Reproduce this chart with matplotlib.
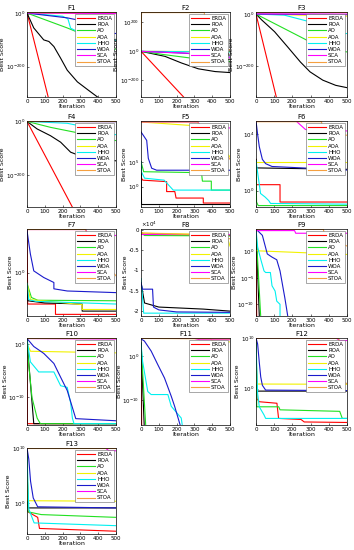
"""
Convergence curves of eight optimisers on the benchmark functions F1-F13.
Scores are kept as log10(best score) for the log panels and as value / 1e4 for F8.
"""

import matplotlib.pyplot as plt

ALGOS = ["ERDA", "ROA", "AO", "AOA", "HHO", "WOA", "SCA", "STOA"]
COLORS = {
    "ERDA": "#ff0000",
    "ROA": "#000000",
    "AO": "#22e022",
    "AOA": "#f2f200",
    "HHO": "#00f0f0",
    "WOA": "#1a1acc",
    "SCA": "#ff00ff",
    "STOA": "#f5a040",
}

# each entry: (iterations, log10 best score)
F1 = {
    "ERDA": ([0, 125], [3, -330]),
    "ROA": ([0, 38, 94, 123, 151, 189, 226, 283, 340, 396, 420],
            [2, -54, -99, -105, -124, -168, -213, -257, -286, -314, -330]),
    "AO": ([0, 226, 321, 396, 500], [2, -54, -80, -124, -134]),
    "AOA": ([0, 500], [3, 3]),
    "HHO": ([0, 200, 230, 245, 290, 330, 500], [2, -10, -20, -55, -70, -95, -100]),
    "WOA": ([0, 226, 321, 415, 453, 500], [2, -16, -29, -54, -73, -75]),
    "SCA": ([0, 500], [2, 0]),
    "STOA": ([0, 500], [5.5, 5.5]),
}
F2 = {
    "ERDA": ([0, 250], [0, -330]),
    "ROA": ([0, 135, 228, 322, 416, 500], [0, -35, -81, -121, -140, -147]),
    "AO": ([0, 130, 320, 500], [0, -23, -53, -70]),
    "AOA": ([0, 500], [0, -2]),
    "HHO": ([0, 500], [0, -5]),
    "WOA": ([0, 230, 420, 500], [0, -12, -28, -40]),
    "SCA": ([0, 400, 500], [0, -20, -45]),
    "STOA": ([0, 3, 356, 360, 500], [0, 268, 268, 10, 10]),
}
F3 = {
    "ERDA": ([0, 115], [0, -330]),
    "ROA": ([0, 32, 102, 173, 244, 297, 367, 438, 500],
            [0, -23, -68, -126, -185, -223, -255, -275, -284]),
    "AO": ([0, 244, 332, 420, 500], [0, -88, -120, -139, -146]),
    "AOA": ([0, 500], [0, -8]),
    "HHO": ([0, 155, 297, 385, 456, 500], [0, -4, -30, -62, -75, -75]),
    "WOA": ([0, 500], [0, -2]),
    "SCA": ([0, 500], [1, 0]),
    "STOA": ([0, 500], [7.5, 7.5]),
}
F4 = {
    "ERDA": ([0, 265], [0, -330]),
    "ROA": ([0, 57, 132, 189, 245, 321, 396, 472, 500],
            [0, -28, -53, -77, -114, -133, -142, -144, -146]),
    "AO": ([0, 132, 321, 415, 500], [0, -22, -47, -66, -71]),
    "AOA": ([0, 500], [0.5, 0.5]),
    "HHO": ([0, 226, 340, 415, 500], [0, -7, -22, -47, -49]),
    "WOA": ([0, 500], [0, -1]),
    "SCA": ([0, 500], [0, 0]),
    "STOA": ([0, 500], [1.2, 1.2]),
}
F5 = {
    "ERDA": ([0, 2, 10, 144, 144, 190, 197, 350, 350, 500],
             [5, 1.7, 1.3, 1.0, -1.0, -1.0, -2.3, -2.3, -3.3, -3.3]),
    "ROA": ([0, 3, 500], [5, -3.6, -3.6]),
    "AO": ([0, 15, 340, 345, 395, 395, 500], [5, 3.0, 2.8, 1.1, 1.1, -0.7, -0.7]),
    "AOA": ([0, 400, 450, 500], [13, 12, 8, 6]),
    "HHO": ([0, 2, 20, 130, 181, 500], [5, 3.0, 1.7, 1.3, -0.7, -0.7]),
    "WOA": ([0, 32, 41, 60, 88, 500], [11, 9.3, 5.7, 3.7, 3.3, 3.3]),
    "SCA": ([0, 320, 340, 500], [13, 13, 12, 11.8]),
    "STOA": ([0, 320, 330, 400, 470, 500], [13, 13, 10, 8, 7, 5.5]),
}
F6 = {
    "ERDA": ([0, 2, 132, 132, 500], [2.2, 0.42, 0.42, -0.8, -0.8]),
    "ROA": ([0, 3, 500], [2.2, 1.6, 1.5]),
    "AO": ([0, 3, 12, 500], [2.1, -0.8, -1.05, -1.05]),
    "AOA": ([0, 500], [2.0, 2.0]),
    "HHO": ([0, 25, 50, 70, 80, 500], [2.1, -0.2, -0.45, -0.7, -0.9, -0.95]),
    "WOA": ([0, 9, 18, 35, 53, 88, 500], [4.9, 3.95, 3.1, 2.2, 1.9, 1.7, 1.45]),
    "SCA": ([0, 220, 272, 500], [4.9, 4.9, 4.3, 4.2]),
    "STOA": ([0, 360, 370, 500], [4.85, 4.85, 4.0, 3.9]),
}
F7 = {
    "ERDA": ([0, 4, 160, 160, 500], [4.0, -2.9, -2.9, -3.85, -3.85]),
    "ROA": ([0, 5, 100, 310, 310, 500], [-1.0, -2.6, -2.8, -2.9, -3.55, -3.55]),
    "AO": ([0, 25, 60, 500], [-1.0, -2.3, -2.55, -2.6]),
    "AOA": ([0, 20, 310, 310, 500], [-1.0, -2.5, -2.95, -3.4, -3.4]),
    "HHO": ([0, 10, 50, 500], [-1.0, -2.5, -2.65, -2.9]),
    "WOA": ([0, 19, 38, 94, 151, 151, 226, 500], [3.85, 1.7, 0.15, -0.46, -0.92, -1.5, -1.7, -1.85]),
    "SCA": ([0, 330, 340, 500], [3.95, 3.95, 3.6, 3.4]),
    "STOA": ([0, 330, 340, 500], [3.95, 3.95, 2.5, -0.3]),
}
# F8 in units of 1e4
F8 = {
    "ERDA": ([0, 20, 500], [-0.06, -0.12, -0.14]),
    "ROA": ([0, 20, 100, 350, 500], [-1.3, -1.8, -1.9, -1.95, -2.0]),
    "AO": ([0, 20, 500], [-0.06, -0.14, -0.15]),
    "AOA": ([0, 480, 500], [-0.08, -0.12, -0.4]),
    "HHO": ([0, 15, 500], [-1.2, -2.05, -2.05]),
    "WOA": ([0, 8, 65, 70, 100, 200, 500], [-1.3, -1.46, -1.46, -1.9, -1.97, -2.02, -2.03]),
    "SCA": ([0, 500], [-0.1, -0.1]),
    "STOA": ([0, 300, 500], [-0.08, -0.12, -0.22]),
}
F9 = {
    "ERDA": ([0, 4], [4, -13]),
    "ROA": ([0, 19], [4, -13]),
    "AO": ([0, 27], [4, -13]),
    "AOA": ([0, 500], [0.1, -0.6]),
    "HHO": ([0, 9, 26, 44, 53, 79, 88, 105, 114, 132, 132],
            [4.2, 0.8, -1.5, -3.7, -4.0, -4.0, -6.5, -7.5, -9.4, -10, -13]),
    "WOA": ([0, 35, 62, 88, 114, 132, 158, 167, 178],
            [4.2, 3.0, -0.5, -1.1, -1.6, -3.7, -8.7, -10.6, -13]),
    "SCA": ([0, 212, 218, 500], [3.9, 3.9, 3.4, 3.4]),
    "STOA": ([0, 370, 380, 500], [4.15, 4.15, 2.5, 1.0]),
}
F10 = {
    "ERDA": ([0, 2, 500], [1.1, -15.05, -15.05]),
    "ROA": ([0, 38, 500], [0.5, -15.05, -15.05]),
    "AO": ([0, 9, 28, 57, 75, 500], [0.5, -3.7, -10.1, -14.0, -15.05, -15.05]),
    "AOA": ([0, 20, 500], [0.0, -1.4, -1.7]),
    "HHO": ([0, 19, 66, 151, 189, 226, 245, 255, 264, 500],
            [1.0, -3.4, -5.3, -5.3, -7.9, -8.2, -11.1, -14.0, -15.05, -15.05]),
    "WOA": ([0, 38, 94, 151, 189, 226, 274, 500],
            [1.0, -0.5, -1.8, -3.7, -6.3, -8.8, -14.1, -14.5]),
    "SCA": ([0, 500], [1.0, 0.9]),
    "STOA": ([0, 500], [1.05, 1.05]),
}
F11 = {
    "ERDA": ([0, 4], [3.0, -17]),
    "ROA": ([0, 19], [3.0, -17]),
    "AO": ([0, 28], [3.0, -17]),
    "AOA": ([0, 390, 400, 500], [4.1, 4.1, 3.5, 3.3]),
    "HHO": ([0, 9, 38, 57, 151, 170, 226, 236], [3.0, -1.2, -8.1, -8.8, -8.8, -11.5, -14.2, -17]),
    "WOA": ([0, 19, 57, 94, 132, 170, 189, 217, 228],
            [4.0, 3.5, 1.2, -1.9, -5.0, -9.2, -11.5, -15.4, -17]),
    "SCA": ([0, 300, 330, 500], [4.1, 4.1, 3.8, 3.8]),
    "STOA": ([0, 500], [4.1, 4.0]),
}
F12 = {
    "ERDA": ([0, 5, 18, 115, 124, 247, 265, 500], [9, -2.0, -2.6, -2.9, -5.9, -6.1, -6.6, -6.7]),
    "ROA": ([0, 5, 500], [9, -0.5, -0.5]),
    "AO": ([0, 4, 125, 132, 460, 474, 500], [9, -3.6, -3.6, -4.2, -4.5, -5.9, -5.9]),
    "AOA": ([0, 5, 500], [9, 0.9, 0.85]),
    "HHO": ([0, 9, 18, 44, 53, 500], [9, -1.0, -3.6, -5.2, -5.9, -5.9]),
    "WOA": ([0, 9, 18, 26, 35, 53, 500], [10, 8.8, 5.2, 2.3, 0.65, -0.3, -0.4]),
    "SCA": ([0, 440, 460, 500], [10, 10, 9.5, 9.5]),
    "STOA": ([0, 455, 460, 500], [9.95, 9.95, 1.5, 1.0]),
}
F13 = {
    "ERDA": ([0, 5, 60, 70, 500], [9, -1.5, -2.5, -4.5, -5.0]),
    "ROA": ([0, 5, 500], [9, -0.8, -0.8]),
    "AO": ([0, 5, 80, 500], [9, -1.5, -2.0, -2.5]),
    "AOA": ([0, 5, 500], [9, 0.5, 0.4]),
    "HHO": ([0, 10, 40, 500], [9, -1.0, -3.5, -4.0]),
    "WOA": ([0, 10, 20, 35, 60, 500], [10, 8.0, 4.0, 1.0, -0.6, -0.8]),
    "SCA": ([0, 440, 460, 500], [10, 10, 9.5, 9.5]),
    "STOA": ([0, 500], [9.95, 9.95]),
}

# (name, data, ylim, yticks, log axis)
PANELS = [
    ("F1", F1, (-314, 6), [0, -200], True),
    ("F2", F2, (-316, 272), [200, 0, -200], True),
    ("F3", F3, (-320, 8), [0, -200], True),
    ("F4", F4, (-317, 1.5), [0, -200], True),
    ("F5", F5, (-4.1, 13.2), [5, 0], True),
    ("F6", F6, (-1.15, 4.9), [4, 0], True),
    ("F7", F7, (-4.0, 4.0), [0], True),
    ("F8", F8, (-2.12, 0.02), [0, -0.5, -1, -1.5, -2], False),
    ("F9", F9, (-12.2, 4.2), [0, -5, -10], True),
    ("F10", F10, (-15.3, 1.1), [0, -10], True),
    ("F11", F11, (-15.8, 4.2), [0, -10], True),
    ("F12", F12, (-7.2, 10.0), [10, 0], True),
    ("F13", F13, (-5.5, 10.0), [10, 0], True),
]

FIG_W, FIG_H = 354, 550
COL_X = [(27, 116), (141, 230), (256, 347)]
ROW_Y = [(12, 97), (121, 207), (229, 316), (338, 425), (448, 534)]


def draw_panel(ax, name, data, ylim, yticks, log):
    for algo in ALGOS:
        x, y = data[algo]
        ax.plot(x, y, color=COLORS[algo], lw=0.8, label=algo)

    ax.set_xlim(0, 500)
    ax.set_ylim(*ylim)
    ax.set_xticks([0, 100, 200, 300, 400, 500])
    ax.set_yticks(yticks)
    if log:
        ax.set_yticklabels([f"$10^{{{t}}}$" for t in yticks])
    else:
        ax.set_yticklabels([f"{t:g}" for t in yticks])
        ax.text(0.0, 1.0, r"$\times10^{4}$", transform=ax.transAxes,
                fontsize=4, ha="left", va="bottom")

    ax.tick_params(labelsize=4, direction="in", length=1.5, width=0.4, pad=1.2)
    for spine in ax.spines.values():
        spine.set_linewidth(0.5)

    ax.set_title(name, fontsize=5, pad=1.5)
    ax.set_xlabel("Iteration", fontsize=4.5, labelpad=0.5)
    ax.set_ylabel("Best Score", fontsize=4.5, labelpad=0.5)
    leg = ax.legend(loc="upper right", fontsize=4, handlelength=3.2, labelspacing=0.22,
                    borderpad=0.3, borderaxespad=0.4, handletextpad=0.4,
                    fancybox=False, framealpha=1, edgecolor="#666666")
    leg.get_frame().set_linewidth(0.4)


def main() -> None:
    fig = plt.figure(figsize=(FIG_W / 100, FIG_H / 100), dpi=100)

    for i, (name, data, ylim, yticks, log) in enumerate(PANELS):
        row, col = divmod(i, 3)
        x0, x1 = COL_X[col]
        y0, y1 = ROW_Y[row]
        ax = fig.add_axes([x0 / FIG_W, 1 - y1 / FIG_H, (x1 - x0) / FIG_W, (y1 - y0) / FIG_H])
        draw_panel(ax, name, data, ylim, yticks, log)

    fig.savefig("out.png", dpi=100)
    plt.close(fig)


if __name__ == "__main__":
    main()
